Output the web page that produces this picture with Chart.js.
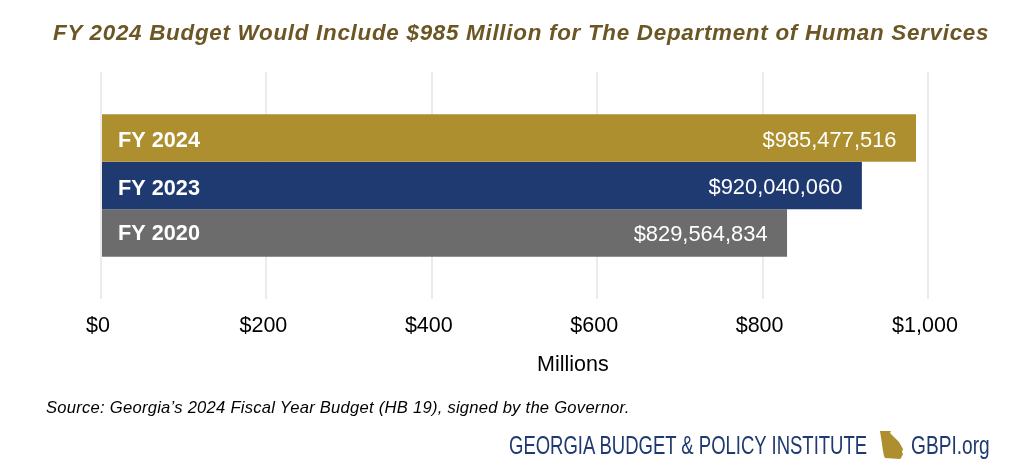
<!DOCTYPE html>
<html lang="en">
<head>
    <meta charset="UTF-8" />
    <title>FY 2024 Budget</title>
    <style>
        html, body {
            margin: 0;
            padding: 0;
            background: #ffffff;
            font-family: "Liberation Sans", Arial, sans-serif;
        }
        #page {
            position: relative;
            width: 1031px;
            height: 476px;
            overflow: hidden;
        }
        #budget-chart {
            position: absolute;
            left: 0;
            top: 0;
        }
        #chart-title {
            position: absolute;
            left: 53px;
            top: 20px;
            margin: 0;
            font-size: 22.4px;
            line-height: 26px;
            font-weight: bold;
            font-style: italic;
            letter-spacing: 0.72px;
            color: #6b5624;
            white-space: nowrap;
        }
        #source {
            position: absolute;
            left: 46px;
            top: 398px;
            font-size: 16.6px;
            line-height: 20px;
            letter-spacing: 0.25px;
            font-style: italic;
            color: #000000;
            white-space: nowrap;
        }
        #x-title {
            position: absolute;
            left: 537px;
            top: 352px;
            font-size: 21.5px;
            line-height: 25px;
            color: #000000;
        }
        .brand {
            position: absolute;
            top: 430px;
            font-size: 25px;
            line-height: 30px;
            color: #1f3a70;
            white-space: nowrap;
            transform-origin: left center;
        }
        #logo {
            position: absolute;
            left: 879px;
            top: 430px;
        }
    </style>
</head>
<body>
    <div id="page">
        <canvas id="budget-chart" width="1031" height="476"></canvas>
        <h1 id="chart-title">FY 2024 Budget Would Include $985 Million for The Department of Human Services</h1>
        <div id="x-title">Millions</div>
        <div id="source">Source: Georgia’s 2024 Fiscal Year Budget (HB 19), signed by the Governor.</div>
        <div class="brand" style="left: 509px; transform: scaleX(0.74)">GEORGIA BUDGET &amp; POLICY INSTITUTE</div>
        <svg id="logo" width="26" height="30" viewBox="0 0 26 30">
            <path d="M1 1 L12 1 L11 3 L16 8 L20 12 L24 19 L23 22 L24 24 L22 28 L21 29 L6 28 L5 26 L4 21 L3 14 Z" fill="#ad8f2f" />
        </svg>
        <div class="brand" style="left: 911px; transform: scaleX(0.765)">GBPI.org</div>
    </div>

    <script src="https://cdn.jsdelivr.net/npm/chart.js@4.4.0/dist/chart.umd.min.js"></script>
    <script>
        const categories = ["Budget"];
        const years = ["FY 2024", "FY 2023", "FY 2020"];
        const budgetDollars = [985477516, 920040060, 829564834];
        const barColors = ["#ad8f2f", "#1f3a70", "#6b6c6b"];
        const xTicks = [0, 200, 400, 600, 800, 1000];

        function money(n) {
            return "$" + n.toLocaleString("en-US");
        }

        // year on the left end of each bar, dollar amount near the right end
        const barLabels = {
            id: "barLabels",
            afterDatasetsDraw(chart) {
                const ctx = chart.ctx;
                const yearNudge = [3, 4, 1];
                const amountNudge = [3, 2, 2];
                ctx.save();
                ctx.fillStyle = "#ffffff";
                ctx.textBaseline = "middle";
                chart.data.datasets.forEach((ds, i) => {
                    const bar = chart.getDatasetMeta(i).data[0];
                    ctx.font = "bold 21.7px 'Liberation Sans'";
                    ctx.textAlign = "left";
                    ctx.fillText(years[i], bar.base + 16, bar.y + yearNudge[i]);
                    ctx.font = "21.9px 'Liberation Sans'";
                    ctx.textAlign = "right";
                    ctx.fillText(money(budgetDollars[i]), bar.x - 19.5, bar.y + amountNudge[i]);
                });
                ctx.restore();
            },
        };

        new Chart(document.getElementById("budget-chart"), {
            type: "bar",
            data: {
                labels: categories,
                datasets: years.map((year, i) => ({
                    label: year,
                    data: [budgetDollars[i] / 1000000],
                    backgroundColor: barColors[i],
                    barPercentage: 1,
                    categoryPercentage: 0.628,
                })),
            },
            options: {
                indexAxis: "y",
                responsive: false,
                animation: false,
                layout: { padding: { left: 101, right: 103, top: 72, bottom: 0 } },
                plugins: {
                    legend: { display: false },
                    tooltip: { enabled: false },
                },
                scales: {
                    y: { display: false },
                    x: {
                        min: 0,
                        max: 1000,
                        afterBuildTicks(scale) {
                            scale.ticks = xTicks.map((v) => ({ value: v }));
                        },
                        afterFit(scale) {
                            scale.height = 177;
                        },
                        grid: {
                            color: "#ebebeb",
                            lineWidth: 2,
                            drawTicks: false,
                        },
                        border: { display: false },
                        ticks: {
                            padding: 14,
                            labelOffset: -3,
                            maxRotation: 0,
                            color: "#000000",
                            font: { family: "'Liberation Sans'", size: 21.5 },
                            callback: (v) => money(v),
                        },
                    },
                },
            },
            plugins: [barLabels],
        });
    </script>
</body>
</html>
